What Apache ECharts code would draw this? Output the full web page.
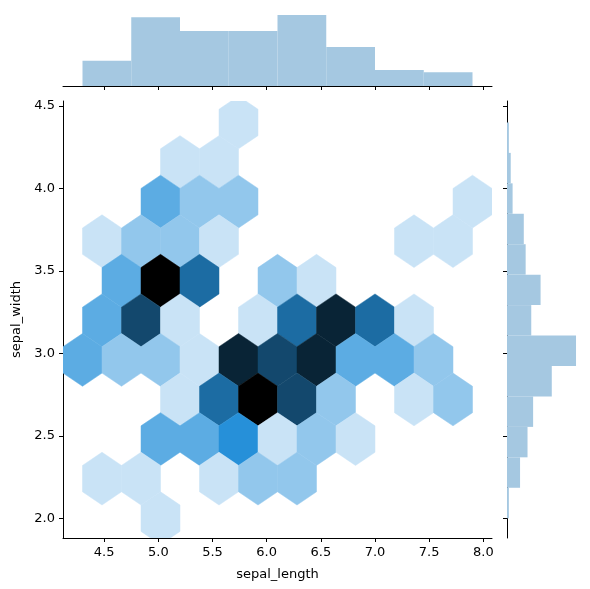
<!doctype html>
<html>
<head>
    <meta charset="UTF-8">
    <title>sepal hexbin</title>
    <script src="https://cdn.jsdelivr.net/npm/echarts@6/dist/echarts.min.js"></script>
    <style>
        html, body { margin: 0; padding: 0; background: #fff; }
        #main { width: 590px; height: 589px; }
    </style>
</head>
<body>
<div id="main"></div>
<script type="text/javascript">
    // hex centres (matplotlib hexbin lattice) and counts
    var hexX = [5.74, 5.20, 5.56, 5.02, 5.38, 5.74, 7.90, 4.48, 4.84, 5.20, 5.56, 7.36, 7.72,
        4.66, 5.02, 5.38, 6.10, 6.46, 4.48, 4.84, 5.20, 5.92, 6.28, 6.64, 7.00, 7.36,
        4.30, 4.66, 5.02, 5.38, 5.74, 6.10, 6.46, 6.82, 7.18, 7.54,
        5.20, 5.56, 5.92, 6.28, 6.64, 7.36, 7.72, 5.02, 5.38, 5.74, 6.10, 6.46, 6.82,
        4.48, 4.84, 5.56, 5.92, 6.28, 5.02];
    var hexY = [4.40, 4.16, 4.16, 3.92, 3.92, 3.92, 3.92, 3.68, 3.68, 3.68, 3.68, 3.68, 3.68,
        3.44, 3.44, 3.44, 3.44, 3.44, 3.20, 3.20, 3.20, 3.20, 3.20, 3.20, 3.20, 3.20,
        2.96, 2.96, 2.96, 2.96, 2.96, 2.96, 2.96, 2.96, 2.96, 2.96,
        2.72, 2.72, 2.72, 2.72, 2.72, 2.72, 2.72, 2.48, 2.48, 2.48, 2.48, 2.48, 2.48,
        2.24, 2.24, 2.24, 2.24, 2.24, 2.00];
    var hexCount = [1, 1, 1, 3, 2, 2, 1, 1, 2, 2, 1, 1, 1,
        3, 8, 5, 2, 1, 3, 6, 1, 1, 5, 7, 5, 1,
        3, 2, 2, 1, 7, 6, 7, 3, 3, 2,
        1, 5, 8, 6, 2, 1, 2, 3, 3, 4, 1, 2, 1,
        1, 1, 1, 2, 2, 1];

    // marginal histograms
    var lenEdges = [4.3, 4.75, 5.2, 5.65, 6.1, 6.55, 7.0, 7.45, 7.9];
    var lenCounts = [11, 30, 24, 24, 31, 17, 7, 6];
    var widEdges = [2.0, 2.1846, 2.3692, 2.5538, 2.7385, 2.9231, 3.1077, 3.2923, 3.4769, 3.6615, 3.8462, 4.0308, 4.2154, 4.4];
    var widCounts = [1, 7, 11, 14, 24, 37, 13, 18, 10, 9, 3, 2, 1];

    var xTicks = [4.5, 5.0, 5.5, 6.0, 6.5, 7.0, 7.5, 8.0];
    var yTicks = [2.0, 2.5, 3.0, 3.5, 4.0, 4.5];

    var SX = 0.36, SY = 0.48, MAXC = 8;
    var histColor = '#a5c8e1';

    function hls2rgb(h, l, s) {
        function f(p, q, t) {
            if (t < 0) t += 1;
            if (t > 1) t -= 1;
            if (t < 1 / 6) return p + (q - p) * 6 * t;
            if (t < 1 / 2) return q;
            if (t < 2 / 3) return p + (q - p) * (2 / 3 - t) * 6;
            return p;
        }
        var q = l < 0.5 ? l * (1 + s) : l + s - l * s;
        var p = 2 * l - q;
        return 'rgb(' + [f(p, q, h + 1 / 3), f(p, q, h), f(p, q, h - 1 / 3)].map(function (v) {
            return Math.round(v * 255);
        }).join(',') + ')';
    }
    function hexColor(c) {
        return hls2rgb(204.6 / 360, 1 - c / MAXC, 0.705);
    }

    var hexData = [];
    for (var i = 0; i < hexX.length; i++) hexData.push([hexX[i], hexY[i], hexCount[i]]);
    var lenData = [], widData = [];
    for (var i = 0; i < lenCounts.length; i++) lenData.push([lenEdges[i], lenEdges[i + 1], lenCounts[i]]);
    for (var i = 0; i < widCounts.length; i++) widData.push([widEdges[i], widEdges[i + 1], widCounts[i]]);

    var font = 'DejaVu Sans';
    var tickLbl = { color: '#000', fontFamily: font, fontSize: 13 };

    var myChart = echarts.init(document.getElementById('main'));
    var option = {
        animation: false,
        grid: [
            { left: 63, right: 98, top: 101, bottom: 51 },   // hexbin
            { left: 63, right: 98, top: 12, bottom: 503 },   // top histogram
            { left: 507, right: 8, top: 101, bottom: 51 }    // right histogram
        ],
        xAxis: [
            {
                gridIndex: 0, type: 'value', min: 4.12, max: 8.08,
                name: 'sepal_length', nameLocation: 'middle', nameGap: 30,
                nameTextStyle: { color: '#000', fontFamily: font, fontSize: 13 },
                splitLine: { show: false },
                axisLine: { lineStyle: { color: '#000', width: 1 } },
                axisTick: { length: 4, lineStyle: { color: '#000' }, customValues: xTicks },
                axisLabel: Object.assign({ customValues: xTicks, margin: 8, formatter: function (v) { return v.toFixed(1); } }, tickLbl)
            },
            {
                gridIndex: 1, type: 'value', min: 4.12, max: 8.08,
                splitLine: { show: false },
                axisLine: { lineStyle: { color: '#000', width: 1 } },
                axisTick: { length: 4, lineStyle: { color: '#000' }, customValues: xTicks },
                axisLabel: { show: false }
            },
            {
                gridIndex: 2, type: 'value', min: 0, max: 40.2,
                show: false
            }
        ],
        yAxis: [
            {
                gridIndex: 0, type: 'value', min: 1.88, max: 4.53,
                name: 'sepal_width', nameLocation: 'middle', nameGap: 38, nameRotate: 90,
                nameTextStyle: { color: '#000', fontFamily: font, fontSize: 13 },
                splitLine: { show: false },
                axisLine: { show: true, lineStyle: { color: '#000', width: 1 } },
                axisTick: { show: true, length: 4, lineStyle: { color: '#000' }, customValues: yTicks },
                axisLabel: Object.assign({ customValues: yTicks, margin: 8, formatter: function (v) { return v.toFixed(1); } }, tickLbl)
            },
            {
                gridIndex: 1, type: 'value', min: 0, max: 32.3,
                show: false
            },
            {
                gridIndex: 2, type: 'value', min: 1.88, max: 4.53,
                splitLine: { show: false },
                axisLine: { show: true, lineStyle: { color: '#000', width: 1 } },
                axisTick: { show: true, length: 4, lineStyle: { color: '#000' }, customValues: yTicks },
                axisLabel: { show: false }
            }
        ],
        series: [
            {
                type: 'custom', xAxisIndex: 0, yAxisIndex: 0, clip: true,
                data: hexData,
                renderItem: function (params, api) {
                    var c = api.coord([api.value(0), api.value(1)]);
                    var s = api.size([SX, SY / 3]);
                    var w = s[0] / 2, h = s[1];
                    var pts = [[c[0] + w, c[1] + h / 2], [c[0] + w, c[1] - h / 2], [c[0], c[1] - h],
                        [c[0] - w, c[1] - h / 2], [c[0] - w, c[1] + h / 2], [c[0], c[1] + h]];
                    var col = hexColor(api.value(2));
                    return { type: 'polygon', shape: { points: pts }, style: { fill: col, stroke: col, lineWidth: 0.5 } };
                }
            },
            {
                type: 'custom', xAxisIndex: 1, yAxisIndex: 1,
                data: lenData,
                renderItem: function (params, api) {
                    var a = api.coord([api.value(0), 0]);
                    var b = api.coord([api.value(1), api.value(2)]);
                    return { type: 'rect', shape: { x: a[0], y: b[1], width: b[0] - a[0], height: a[1] - b[1] }, style: { fill: histColor } };
                }
            },
            {
                type: 'custom', xAxisIndex: 2, yAxisIndex: 2,
                data: widData,
                renderItem: function (params, api) {
                    var a = api.coord([0, api.value(0)]);
                    var b = api.coord([api.value(2), api.value(1)]);
                    return { type: 'rect', shape: { x: a[0], y: b[1], width: b[0] - a[0], height: a[1] - b[1] }, style: { fill: histColor } };
                }
            }
        ]
    };
    myChart.setOption(option);
</script>
</body>
</html>
